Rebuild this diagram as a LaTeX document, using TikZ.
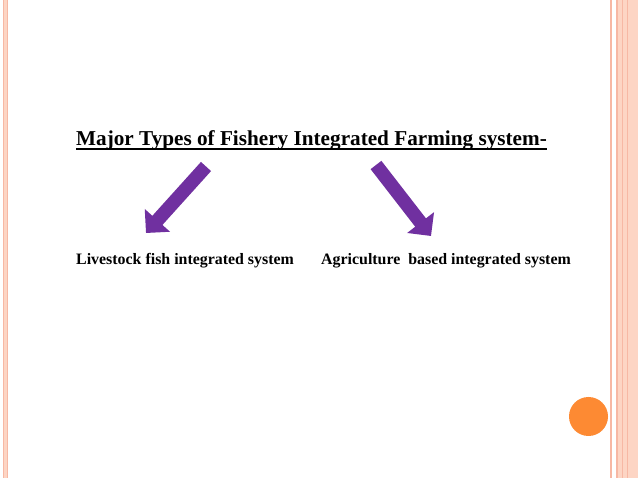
\documentclass[tikz,border=0pt]{standalone}
\usepackage{fontspec}
\setmainfont{Liberation Serif}
\usetikzlibrary{arrows.meta}

\definecolor{peach}{HTML}{FDD5C4}
\definecolor{peachline}{HTML}{F7B8A4}
\definecolor{arrowpurple}{HTML}{7030A0}
\definecolor{dotorange}{HTML}{FD8A33}

\tikzset{
    bigarrow/.style={draw=arrowpurple, line width=13.6pt,
        -{Triangle[width=33pt,length=17pt]}, shorten >=0pt},
    subtitle/.style={anchor=base west, inner sep=0, font=\fontsize{15.9}{18}\selectfont\bfseries}
}

\begin{document}
\begin{tikzpicture}[x=1pt,y=-1pt]
\useasboundingbox (0,0) rectangle (638,478);
\fill[white] (0,0) rectangle (638,478);

% left border
\fill[peach] (3,0) rectangle (7.5,478);
\draw[peachline, line width=1pt] (3.5,0) -- (3.5,478);
\draw[peachline, line width=1pt] (7,0) -- (7,478);

% right border
\draw[peachline, line width=2pt] (611,0) -- (611,478);
\fill[peach] (616,0) rectangle (638,478);
\draw[peachline, line width=2pt] (617,0) -- (617,478);
\draw[peachline, line width=1pt] (622.5,0) -- (622.5,478);
\draw[peachline, line width=0.8pt] (627,0) -- (627,478);

% title
\node [anchor=base west, inner sep=0, font=\fontsize{21.2}{25}\selectfont\bfseries] (title) at (76,146) {Major Types of Fishery Integrated Farming system-};
\draw [line width=1.8pt] ([yshift=-3.3pt]title.base west) -- ([yshift=-3.3pt]title.base east);

% arrows
\coordinate (ltail) at (206,166.5);
\coordinate (ltip) at (146,233);
\coordinate (rtail) at (376,165);
\coordinate (rtip) at (431,236);
\draw [bigarrow] (ltail) -- (ltip);
\draw [bigarrow] (rtail) -- (rtip);

% two kinds
\node [subtitle] (livestock) at (76,265) {Livestock fish integrated system};
\node [subtitle] (agri) at (321,265) {Agriculture\ \ based integrated system};

% orange dot
\node [circle, fill=dotorange, minimum size=39pt, inner sep=0] (dot) at (588.5,416.5) {};

\end{tikzpicture}
\end{document}
